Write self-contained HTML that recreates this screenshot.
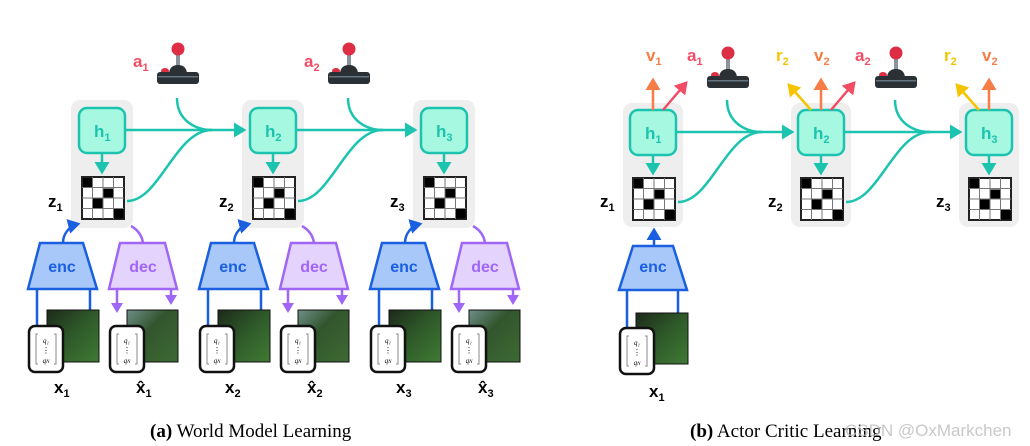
<!DOCTYPE html>
<html><head><meta charset="utf-8"><style>
body{margin:0;background:#fff}
svg{display:block}
.lb{font-family:"Liberation Sans",sans-serif;font-weight:bold}
.cap{font-family:"Liberation Serif",serif;font-size:19px}
</style></head><body>
<svg width="1030" height="446" viewBox="0 0 1030 446" xmlns="http://www.w3.org/2000/svg">
<defs>
<marker id="tq" markerWidth="6" markerHeight="6" refX="4" refY="3" orient="auto" markerUnits="strokeWidth"><path d="M0,0 L5,3 L0,6 z" fill="#1cc4b0"/></marker>
<marker id="bl" markerWidth="6" markerHeight="6" refX="4" refY="3" orient="auto" markerUnits="strokeWidth"><path d="M0,0 L5,3 L0,6 z" fill="#1a5fe0"/></marker>
<marker id="or" markerWidth="6" markerHeight="6" refX="4" refY="3" orient="auto" markerUnits="strokeWidth"><path d="M0,0 L5,3 L0,6 z" fill="#f77c45"/></marker>
<marker id="rd" markerWidth="6" markerHeight="6" refX="4" refY="3" orient="auto" markerUnits="strokeWidth"><path d="M0,0 L5,3 L0,6 z" fill="#f24d64"/></marker>
<marker id="ye" markerWidth="6" markerHeight="6" refX="4" refY="3" orient="auto" markerUnits="strokeWidth"><path d="M0,0 L5,3 L0,6 z" fill="#f5c400"/></marker>
<g id="grid">
<rect x="0" y="0" width="42" height="42" fill="#fff" stroke="#222" stroke-width="2"/>
<rect x="1" y="1" width="10" height="10" fill="#000"/>
<rect x="21.5" y="11.5" width="10" height="10" fill="#000"/>
<rect x="11" y="21.5" width="10" height="10" fill="#000"/>
<rect x="31.5" y="31.5" width="10" height="10" fill="#000"/>
<path d="M10.5,0V42M21,0V42M31.5,0V42M0,10.5H42M0,21H42M0,31.5H42" stroke="#777" stroke-width="1"/>
</g>
<g id="joy">
<rect x="-2" y="6" width="4" height="12" fill="#8a949c"/>
<circle cx="0" cy="0" r="6.5" fill="#dd2e44"/>
<ellipse cx="-13" cy="22" rx="4" ry="3" fill="#dd2e44"/>
<path d="M-9,24 Q-8,16 0,16 Q8,16 9,24 z" fill="#2b3035"/>
<rect x="-21" y="23" width="42" height="12" rx="3" fill="#2b3035"/>
<rect x="-20" y="27" width="40" height="1.5" fill="#66757f"/>
</g>
<g id="card">
<rect x="0" y="0" width="34" height="46" rx="6" fill="#fff" stroke="#111" stroke-width="2.5"/>
<path d="M9,8 h-2 v30 h2 M25,8 h2 v30 h-2" stroke="#888" fill="none" stroke-width="1"/>
<text x="17" y="17" font-size="7" font-style="italic" text-anchor="middle" font-family="Liberation Serif">q₁</text>
<text x="17" y="27" font-size="8" text-anchor="middle" font-family="Liberation Serif">⋮</text>
<text x="17" y="37" font-size="7" font-style="italic" text-anchor="middle" font-family="Liberation Serif">q<tspan font-size="5">N</tspan></text>
</g>
<linearGradient id="img1" x1="0" y1="0" x2="1" y2="1"><stop offset="0" stop-color="#1d2a1a"/><stop offset="0.5" stop-color="#2f5a2a"/><stop offset="1" stop-color="#3f7a33"/></linearGradient>
<linearGradient id="img2" x1="0" y1="0" x2="1" y2="1"><stop offset="0" stop-color="#6f8f8a"/><stop offset="0.4" stop-color="#33552e"/><stop offset="1" stop-color="#3d6a33"/></linearGradient>
</defs>

<!-- LEFT PANEL -->
<g id="colL">
<rect x="71" y="100" width="62" height="128" rx="9" fill="#eeeeee"/>
<rect x="79" y="108" width="46" height="45" rx="8" fill="#a6f8e0" stroke="#1cc4b0" stroke-width="2.5"/>
<line x1="102" y1="153" x2="102" y2="172" stroke="#1cc4b0" stroke-width="2.5" marker-end="url(#tq)"/>
<use href="#grid" x="82" y="177"/>
</g>
<use href="#colL" x="171"/>
<use href="#colL" x="342"/>
<text class="lb" x="94" y="137" font-size="17" fill="#1cc4b0">h<tspan font-size="11" dy="4">1</tspan></text>
<text class="lb" x="265" y="137" font-size="17" fill="#1cc4b0">h<tspan font-size="11" dy="4">2</tspan></text>
<text class="lb" x="436" y="137" font-size="17" fill="#1cc4b0">h<tspan font-size="11" dy="4">3</tspan></text>
<text class="lb" x="48" y="207" font-size="17">z<tspan font-size="11" dy="4">1</tspan></text>
<text class="lb" x="219" y="207" font-size="17">z<tspan font-size="11" dy="4">2</tspan></text>
<text class="lb" x="390" y="207" font-size="17">z<tspan font-size="11" dy="4">3</tspan></text>

<g fill="none" stroke="#1cc4b0" stroke-width="2.5">
<path d="M125,130 H244" marker-end="url(#tq)"/>
<path d="M177,98 C177,120 195,130 212,130"/>
<path d="M127,201 C160,201 175,130 212,130"/>
<path d="M296,130 H415" marker-end="url(#tq)"/>
<path d="M348,98 C348,120 366,130 383,130"/>
<path d="M298,201 C331,201 346,130 383,130"/>
</g>
<use href="#joy" x="178" y="49"/>
<use href="#joy" x="349" y="49"/>
<text class="lb" x="133" y="67" font-size="17" fill="#f24d64">a<tspan font-size="11" dy="4">1</tspan></text>
<text class="lb" x="304" y="67" font-size="17" fill="#f24d64">a<tspan font-size="11" dy="4">2</tspan></text>

<g id="encdec">
<path d="M63,243 C63,233 70,226 78,224" fill="none" stroke="#1a5fe0" stroke-width="2.5" marker-end="url(#bl)"/>
<path d="M40,243 H83 L97,289 H28 Z" fill="#a9c8fa" stroke="#1a5fe0" stroke-width="2.5"/>
<path d="M37,289 V326 M90,289 V311" stroke="#1a5fe0" stroke-width="2.5" fill="none"/>
<path d="M131,226 C138,230 142,236 143,243" fill="none" stroke="#a066f5" stroke-width="2.5"/>
<path d="M120,243 H165 L177,289 H109 Z" fill="#e4d3fd" stroke="#a066f5" stroke-width="2.5"/>
<path d="M117,289 V304 M171,289 V296" stroke="#a066f5" stroke-width="2.5" fill="none"/>
<rect x="47" y="310" width="52" height="52" fill="url(#img1)" stroke="#111" stroke-width="1"/>
<rect x="127" y="310" width="51" height="52" fill="url(#img2)" stroke="#111" stroke-width="1"/>
<polygon points="111,303 123,303 117,313" fill="#a066f5"/>
<polygon points="165,295 177,295 171,305" fill="#a066f5"/>
<use href="#card" x="29" y="326"/>
<use href="#card" x="110" y="326"/>
</g>
<use href="#encdec" x="171"/>
<use href="#encdec" x="342"/>

<g class="lb" font-size="17">
<text x="54" y="393">x<tspan font-size="11" dy="4">1</tspan></text>
<text x="136" y="393">x̂<tspan font-size="11" dy="4">1</tspan></text>
<text x="225" y="393">x<tspan font-size="11" dy="4">2</tspan></text>
<text x="307" y="393">x̂<tspan font-size="11" dy="4">2</tspan></text>
<text x="396" y="393">x<tspan font-size="11" dy="4">3</tspan></text>
<text x="478" y="393">x̂<tspan font-size="11" dy="4">3</tspan></text>
</g>
<g class="lb" font-size="16" text-anchor="middle">
<text x="62" y="272" fill="#1a5fe0">enc</text><text x="233" y="272" fill="#1a5fe0">enc</text><text x="404" y="272" fill="#1a5fe0">enc</text>
<text x="143" y="272" fill="#a066f5">dec</text><text x="314" y="272" fill="#a066f5">dec</text><text x="485" y="272" fill="#a066f5">dec</text>
</g>
<text class="cap" x="150" y="437"><tspan font-weight="bold">(a)</tspan> World Model Learning</text>

<!-- RIGHT PANEL -->
<g id="colR">
<rect x="623" y="103" width="60" height="124" rx="9" fill="#eeeeee"/>
<rect x="630" y="110" width="46" height="45" rx="8" fill="#a6f8e0" stroke="#1cc4b0" stroke-width="2.5"/>
<line x1="653" y1="155" x2="653" y2="173" stroke="#1cc4b0" stroke-width="2.5" marker-end="url(#tq)"/>
<use href="#grid" x="633" y="178"/>
</g>
<use href="#colR" x="168"/>
<use href="#colR" x="336"/>
<text class="lb" x="645" y="139" font-size="17" fill="#1cc4b0">h<tspan font-size="11" dy="4">1</tspan></text>
<text class="lb" x="813" y="139" font-size="17" fill="#1cc4b0">h<tspan font-size="11" dy="4">2</tspan></text>
<text class="lb" x="981" y="139" font-size="17" fill="#1cc4b0">h<tspan font-size="11" dy="4">3</tspan></text>
<text class="lb" x="600" y="207" font-size="17">z<tspan font-size="11" dy="4">1</tspan></text>
<text class="lb" x="768" y="207" font-size="17">z<tspan font-size="11" dy="4">2</tspan></text>
<text class="lb" x="936" y="207" font-size="17">z<tspan font-size="11" dy="4">3</tspan></text>
<g fill="none" stroke="#1cc4b0" stroke-width="2.5">
<path d="M676,132 H792" marker-end="url(#tq)"/>
<path d="M727,100 C727,122 745,132 762,132"/>
<path d="M678,202 C711,202 726,132 762,132"/>
<path d="M844,132 H960" marker-end="url(#tq)"/>
<path d="M895,100 C895,122 913,132 930,132"/>
<path d="M846,202 C879,202 894,132 930,132"/>
</g>
<use href="#joy" x="728" y="53"/>
<use href="#joy" x="896" y="53"/>
<g stroke-width="2.5" fill="none">
<path d="M653,110 V80" stroke="#f77c45" marker-end="url(#or)"/>
<path d="M663,110 L686,83" stroke="#f24d64" marker-end="url(#rd)"/>
<path d="M821,110 V80" stroke="#f77c45" marker-end="url(#or)"/>
<path d="M831,110 L854,83" stroke="#f24d64" marker-end="url(#rd)"/>
<path d="M811,110 L789,85" stroke="#f5c400" marker-end="url(#ye)"/>
<path d="M989,110 V80" stroke="#f77c45" marker-end="url(#or)"/>
<path d="M979,110 L957,85" stroke="#f5c400" marker-end="url(#ye)"/>
</g>
<g class="lb" font-size="17">
<text x="646" y="61" fill="#f77c45">v<tspan font-size="11" dy="4">1</tspan></text>
<text x="687" y="61" fill="#f24d64">a<tspan font-size="11" dy="4">1</tspan></text>
<text x="776" y="61" fill="#f5c400">r<tspan font-size="11" dy="4">2</tspan></text>
<text x="814" y="61" fill="#f77c45">v<tspan font-size="11" dy="4">2</tspan></text>
<text x="855" y="61" fill="#f24d64">a<tspan font-size="11" dy="4">2</tspan></text>
<text x="944" y="61" fill="#f5c400">r<tspan font-size="11" dy="4">2</tspan></text>
<text x="982" y="61" fill="#f77c45">v<tspan font-size="11" dy="4">2</tspan></text>
</g>
<path d="M654,246 V230" stroke="#1a5fe0" stroke-width="2.5" marker-end="url(#bl)"/>
<path d="M633,246 H673 L687,290 H619 Z" fill="#a9c8fa" stroke="#1a5fe0" stroke-width="2.5"/>
<path d="M627,290 V329 M678,290 V313" stroke="#1a5fe0" stroke-width="2.5" fill="none"/>
<rect x="636" y="313" width="52" height="51" fill="url(#img1)" stroke="#111" stroke-width="1"/>
<use href="#card" x="620" y="328"/>
<text class="lb" x="653" y="272" font-size="16" text-anchor="middle" fill="#1a5fe0">enc</text>
<text class="lb" x="649" y="397" font-size="17">x<tspan font-size="11" dy="4">1</tspan></text>
<text class="cap" x="690" y="437"><tspan font-weight="bold">(b)</tspan> Actor Critic Learning</text>
<text x="845" y="436" font-family="Liberation Sans,sans-serif" font-size="17" fill="#bbb" opacity="0.8">CSDN @OxMarkchen</text>
</svg>
</body></html>
